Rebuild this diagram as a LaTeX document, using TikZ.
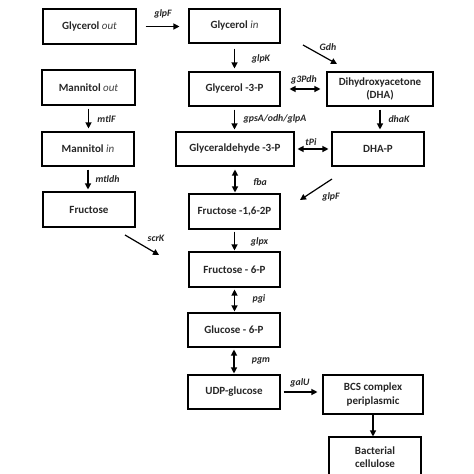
\documentclass[tikz,border=0pt]{standalone}
\usepackage{fontspec}
\setmainfont{Carlito}
\usepackage{xcolor}
\usetikzlibrary{arrows.meta}
\newcommand{\subloc}[1]{{\mdseries\itshape\color{darkgray}#1}}

\begin{document}
\begin{tikzpicture}[x=1pt,y=-1pt,
  box/.style={draw,line width=1.1pt,align=center,inner sep=0pt,text=black!85,font=\bfseries\fontsize{11}{13.5}\selectfont},
  enz/.style={text=black!85,font=\bfseries\itshape\fontsize{9.8}{11}\selectfont},
  arr/.style={line width=1.2pt,-{Triangle[length=6pt,width=6pt]}},
  dbl/.style={line width=1.2pt,{Triangle[length=6pt,width=6pt]}-{Triangle[length=6pt,width=6pt]}}]
\useasboundingbox (0,0) rectangle (474,474);
\clip (0,0) rectangle (474,474);
% left column
\node [box,minimum width=93,minimum height=35] (glyout) at (89.5,26.5) {Glycerol \subloc{out}};
\node [box,minimum width=93,minimum height=35] (manout) at (88.5,87.5) {Mannitol \subloc{out}};
\node [box,minimum width=92,minimum height=34] (manin) at (88,149) {Mannitol \subloc{in}};
\node [box,minimum width=92,minimum height=35] (fru) at (89,209.5) {Fructose};
% middle column
\node [box,minimum width=91,minimum height=34] (glyin) at (234.5,26) {Glycerol \subloc{in}};
\node [box,minimum width=91,minimum height=34] (g3p) at (234.5,89) {Glycerol -3-P};
\node [box,minimum width=118,minimum height=34] (gald) at (235,149) {Glyceraldehyde -3-P};
\node [box,minimum width=91,minimum height=35] (f16) at (234.5,211.5) {Fructose -1,6-2P};
\node [box,minimum width=91,minimum height=35] (f6p) at (234.5,269.5) {Fructose - 6-P};
\node [box,minimum width=92,minimum height=34] (g6p) at (234,330) {Glucose - 6-P};
\node [box,minimum width=92,minimum height=34] (udp) at (234,392) {UDP-glucose};
% right column
\node [box,minimum width=106,minimum height=34] (dha) at (380,89) {Dihydroxyacetone\\(DHA)};
\node [box,minimum width=92,minimum height=34] (dhap) at (378,149) {DHA-P};
\node [box,minimum width=100,minimum height=39] (bcs) at (373,394.5) {BCS complex\\periplasmic};
\node [box,minimum width=92,minimum height=40] (bc) at (375,457) {Bacterial\\cellulose};
% free ends of the slanted arrows
\coordinate (gdhA) at (303,45);   \coordinate (gdhB) at (337,64);
\coordinate (glpfA) at (332,179); \coordinate (glpfB) at (300,200);
\coordinate (scrkA) at (125,235); \coordinate (scrkB) at (159,255);
% arrows
\draw [arr,shorten <=9pt,shorten >=9pt] (glyout.east) -- (glyout.east -| glyin.west);
\draw [arr,shorten <=5pt,shorten >=3pt] (glyin.south) -- (glyin.south |- g3p.north);
\draw [dbl,shorten <=9pt,shorten >=6pt] (g3p.east) -- (g3p.east -| dha.west);
\draw [arr,shorten <=3pt,shorten >=2pt] (g3p.south) -- (g3p.south |- gald.north);
\draw [arr,shorten <=3pt,shorten >=2pt] (dha.south) -- (dha.south |- dhap.north);
\draw [dbl,shorten <=3pt,shorten >=3pt] (gald.east) -- (gald.east -| dhap.west);
\draw [dbl,shorten <=3pt,shorten >=1pt] (gald.south) -- (gald.south |- f16.north);
\draw [arr,shorten <=2pt,shorten >=1pt] (f16.south) -- (f16.south |- f6p.north);
\draw [dbl,shorten <=2pt,shorten >=1pt] (f6p.south) -- (f6p.south |- g6p.north);
\draw [dbl,shorten <=2pt,shorten >=1pt] (g6p.south) -- (g6p.south |- udp.north);
\draw [arr,shorten <=3pt,shorten >=5pt] (udp.east) -- (udp.east -| bcs.west);
\draw [arr] (bcs.south) -- (bcs.south |- bc.north);
\draw [arr,shorten <=3pt,shorten >=3pt] (manout.south) -- (manout.south |- manin.north);
\draw [arr,shorten <=3pt,shorten >=2pt] (manin.south) -- (manin.south |- fru.north);
\draw [arr] (gdhA) -- (gdhB);
\draw [arr] (glpfA) -- (glpfB);
\draw [arr] (scrkA) -- (scrkB);
% enzyme labels
\foreach \nm/\px/\py/\txt in {eglpF/163/14/glpF,eglpK/261/59/glpK,egdh/328/47/Gdh,eg3pdh/304/80/g3Pdh,
  emtlF/106.5/119/mtlF,edhaK/399/119/dhaK,etpi/311/142/tPi,emtldh/107.5/179/mtldh,efba/260/182/fba,
  eglpFb/331/197/glpF,escrK/156/238/scrK,eglpx/259.5/242/glpx,epgi/259/299/pgi,epgm/261/361/pgm,egalU/300/383/galU}
  { \node [enz] (\nm) at (\px,\py) {\txt}; }
\node [enz] (egpsA) at (275,119) {gpsA/odh/glpA};
\end{tikzpicture}
\end{document}
